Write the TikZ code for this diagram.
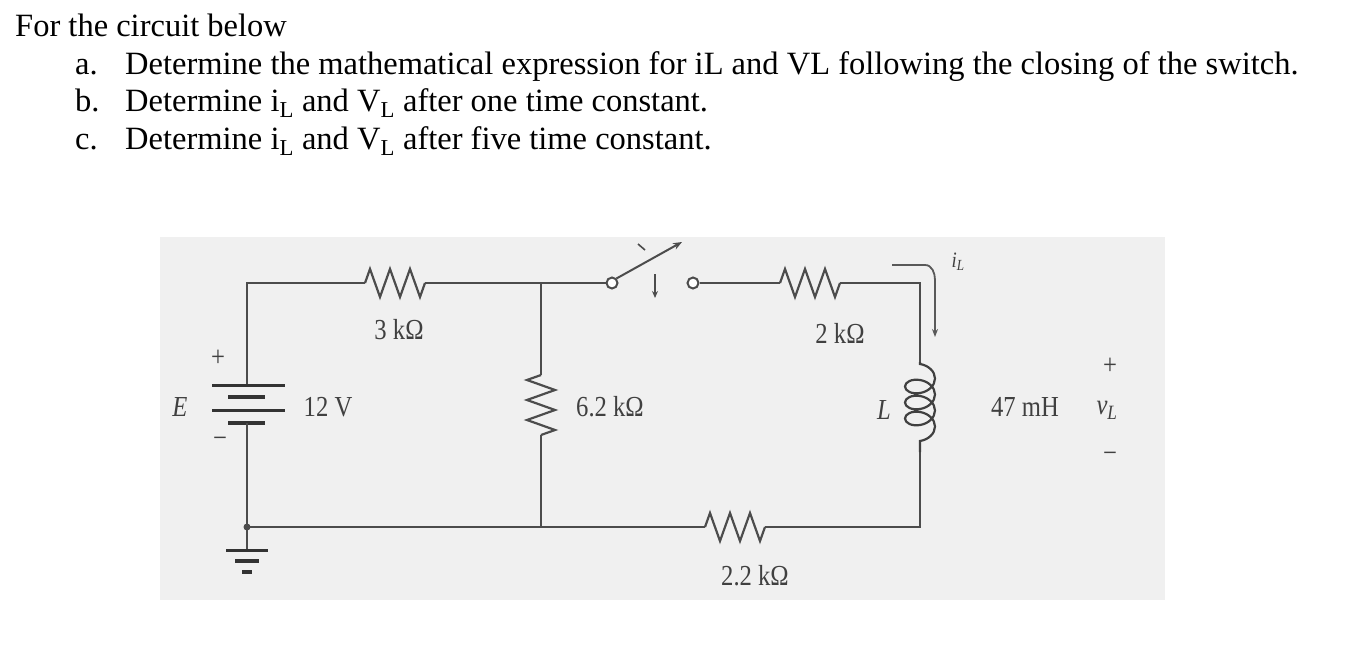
\documentclass[tikz,border=0pt]{standalone}
\usepackage{fontspec}
\setmainfont{Liberation Serif}
\usetikzlibrary{decorations.pathmorphing,arrows.meta}
\begin{document}
\begin{tikzpicture}[x=1pt,y=-1pt,
  hdr/.style={anchor=base west,font=\fontsize{32.5}{34}\selectfont,inner sep=0},
  lab/.style={font=\fontsize{29}{31}\selectfont,text=black!75,inner sep=0,xscale=0.85},
  wire/.style={draw=black!70,line width=2.2pt},
  hres/.pic={\draw[wire,line join=miter] (0,0)--(5,-14)--(15,14)--(25,-14)--(35,14)--(45,-14)--(55,14)--(60,0);},
  vres/.pic={\draw[wire,line join=miter] (0,0)--(-14,5)--(14,15)--(-14,25)--(14,35)--(-14,45)--(14,55)--(0,60);},
  term/.style={circle,draw=black!70,line width=2pt,fill=white,inner sep=0,minimum size=11pt}]
\useasboundingbox (0,0) rectangle (1366,664);
\fill[white] (0,0) rectangle (1366,664);
\fill[black!6] (160,237) rectangle (1165,600);
% header
\node[hdr] (t0) at (15,36) {For the circuit below};
\node[hdr] (a) at (75,74) {a.};
\node[hdr] (ta) at (125,74) {Determine the mathematical expression for iL and VL following the closing of the switch.};
\node[hdr] (b) at (75,111) {b.};
\node[hdr] (tb) at (125,111) {Determine i\textsubscript{L} and V\textsubscript{L} after one time constant.};
\node[hdr] (c) at (75,149) {c.};
\node[hdr] (tc) at (125,149) {Determine i\textsubscript{L} and V\textsubscript{L} after five time constant.};
% coordinates
\coordinate (TL) at (247,283);
\coordinate (TM) at (541,283);
\coordinate (BL) at (247,527);
\coordinate (BM) at (541,527);
\coordinate (TR) at (920,283);
\coordinate (BR) at (920,527);
\node[term] (s1) at (612,283) {};
\node[term] (s2) at (693,283) {};
% top wires
\path[wire] (247,385) -- (TL) -- (365,283);
\pic at (365,283) {hres};
\path[wire] (425,283) -- (TM) -- (s1);
\path[wire] (s2) -- (780,283);
\pic at (780,283) {hres};
\path[wire] (840,283) -- (TR) -- (920,362);
% switch
\draw[black!70,line width=2pt,-{Stealth[length=9pt,width=7pt]}] (s1.north east) -- (682,242);
\draw[black!70,line width=1.6pt] (638,244) -- (645,250);
\draw[black!70,line width=1.6pt,-{Stealth[length=7pt,width=6pt]}] (655,274) -- (655,298);
% battery
\draw[black!80,line width=3pt] (212,385)--(285,385) (212,410)--(285,410);
\draw[black!80,line width=4pt] (228,397)--(265,397) (228,423)--(265,423);
\path[wire] (247,423) -- (BL);
\fill[black!70] (BL) circle (3.5);
\path[wire] (BL) -- (247,550);
\draw[black!80,line width=3pt] (226,550)--(268,550);
\draw[black!80,line width=3.5pt] (235,561)--(259,561);
\draw[black!80,line width=3.5pt] (242,572)--(252,572);
\node[lab] (plus1) at (218,358) {+};
\node[lab] (minus1) at (220,442) {\textminus};
\node[lab] (E) at (180,407) {\itshape E};
\node[lab] (V12) at (328,407) {12 V};
\node[lab] (R1) at (399,330) {3 kΩ};
% middle resistor
\path[wire] (TM) -- (541,375);
\pic at (541,375) {vres};
\path[wire] (541,435) -- (BM);
\node[lab] (R3) at (610,407) {6.2 kΩ};
\node[lab] (R2) at (840,333) {2 kΩ};
% bottom
\path[wire] (BL) -- (705,527);
\pic at (705,527) {hres};
\path[wire] (765,527) -- (BR) -- (920,452);
\node[lab] (R4) at (755,576) {2.2 kΩ};
% inductor
\draw[black!75,line width=2.2pt,decorate,decoration={coil,aspect=0.7,segment length=16pt,amplitude=15pt,pre length=2pt,post length=2pt}] (920,362) -- (920,452);
\node[lab] (L) at (884,410) {\itshape L};
\node[lab] (LV) at (1025,407) {47 mH};
\node[lab] (vL) at (1107,410) {\itshape v\textsubscript{L}};
\node[lab] (plus2) at (1110,366) {+};
\node[lab] (minus2) at (1110,457) {\textminus};
% current arrow
\draw[black!65,line width=1.8pt,-{Stealth[length=8pt,width=6pt]}] (892,265) -- (925,265) to[out=0,in=90] (935,280) -- (935,337);
\node[lab,font=\fontsize{22}{24}\selectfont] (iL) at (958,262) {\itshape i\textsubscript{L}};
\end{tikzpicture}
\end{document}
